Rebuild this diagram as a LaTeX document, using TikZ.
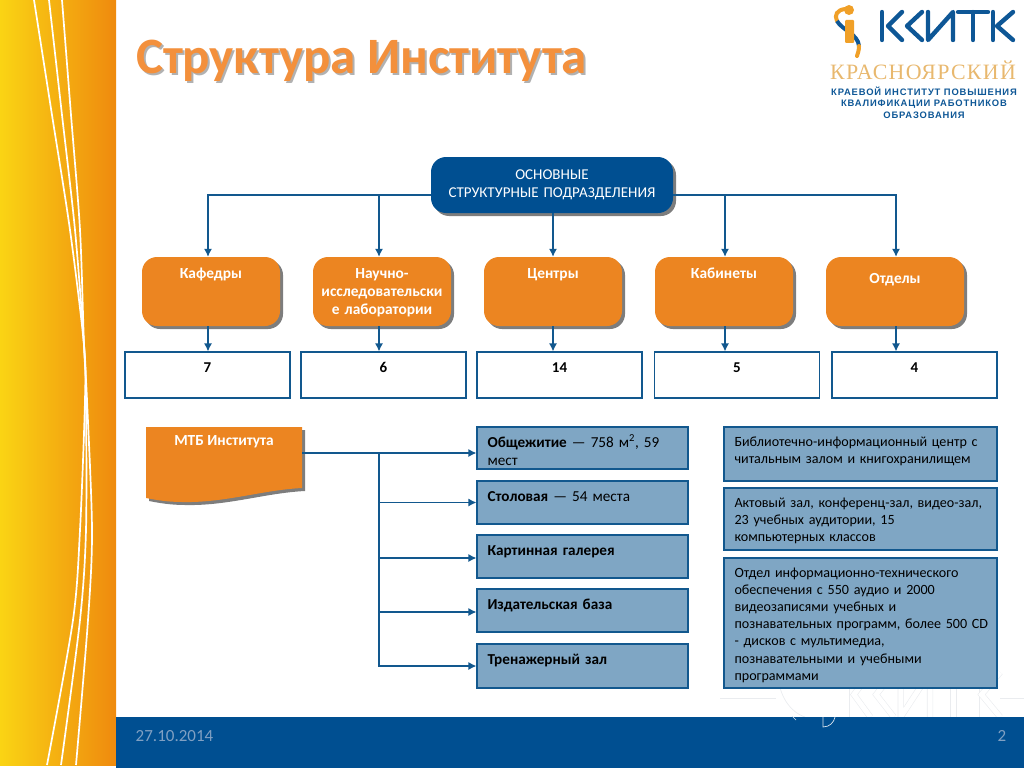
\documentclass[tikz,border=0pt]{standalone}
\usepackage{fontspec}
\setmainfont{Carlito}
\newfontfamily\logoserif[LetterSpace=6]{Liberation Serif}
\newfontfamily\logosans[LetterSpace=9]{Liberation Sans}
\usepackage{tikz}
\usetikzlibrary{shadows,arrows.meta}
\definecolor{kipkblue}{RGB}{0,79,145}
\definecolor{linkblue}{RGB}{18,88,142}
\definecolor{kipkorange}{RGB}{236,133,33}
\definecolor{titleorange}{RGB}{243,144,60}
\definecolor{boxblue}{RGB}{127,166,196}
\definecolor{shadowgray}{RGB}{125,125,125}
\definecolor{logoblue}{RGB}{14,87,150}
\definecolor{logoorange}{RGB}{240,160,40}
\definecolor{logotan}{RGB}{232,184,110}
\definecolor{markgray}{RGB}{234,236,239}
\newcommand{\logoletters}[1]{
	\draw [#1] (882,12) -- (882,40);
	\draw [#1] (902,12) -- (888,26) -- (902,40);
	\draw [#1] (922,12) -- (907,26) -- (922,40);
	\draw [#1] (928,12) -- (928,40) -- (953,12) -- (953,40);
	\draw [#1] (958,12) -- (988,12);
	\draw [#1] (973,12) -- (973,40);
	\draw [#1] (993,12) -- (993,40);
	\draw [#1] (1013,12) -- (997,26) -- (1013,40);
}
\tikzset{
	topbox/.style={draw=none, fill=kipkblue, rounded corners=15pt, text=white, font=\fontsize{15}{18}\selectfont, align=center, text width=234pt, inner xsep=4pt, inner ysep=0pt, text height=22pt, text depth=34pt, general shadow={fill=shadowgray, shadow xshift=3pt, shadow yshift=-3pt}},
	unitbox/.style={draw=none, fill=kipkorange, rounded corners=15pt, text=white, font=\bfseries\fontsize{15.4}{18}\selectfont, align=center, text width=130pt, inner xsep=4pt, inner ysep=0pt, text height=21pt, text depth=48pt, general shadow={fill=shadowgray, shadow xshift=3pt, shadow yshift=-3pt}},
	numbox/.style={draw=linkblue, line width=1.2pt, fill=white, font=\bfseries\fontsize{15}{18}\selectfont, minimum width=165pt, inner ysep=0pt, text height=20pt, text depth=26pt},
	leftbox/.style={draw=linkblue, line width=1.2pt, fill=boxblue, font=\fontsize{15.2}{18.6}\selectfont, align=left, text width=190pt, minimum width=211pt, inner xsep=0pt, inner ysep=0pt, text height=20pt},
	rightbox/.style={draw=linkblue, line width=1.2pt, fill=boxblue, font=\fontsize{14.1}{17.2}\selectfont, align=left, text width=252pt, minimum width=273pt, inner xsep=0pt, inner ysep=0pt, text height=19pt},
	connector/.style={-{Latex[length=8pt,width=8pt]}, draw=linkblue, line width=1.2pt},
}
\begin{document}
\begin{tikzpicture}[x=1pt, y=-1pt]
	\useasboundingbox (0,0) rectangle (1024,768);

	% side band and footer
	\fill [left color={rgb,255:red,250;green,212;blue,20}, middle color={rgb,255:red,245;green,172;blue,18}, right color={rgb,255:red,239;green,138;blue,14}] (0,0) rectangle (116,765);
	\draw [white, line width=1.7pt] plot [smooth] coordinates {(34,0) (52,115) (70,230) (84,345) (85,400) (80,530) (73,620) (47,765)};
	\draw [white, line width=1.7pt] plot [smooth] coordinates {(49,0) (62,115) (75,230) (84,345) (86,400) (86,530) (80,620) (61,765)};
	\draw [white, line width=1.7pt] plot [smooth] coordinates {(62,0) (71,115) (80,230) (84,345) (87,400) (92,530) (88,620) (76,765)};

	% faint logo behind the boxes
	\draw [markgray, line width=0.7pt] (720,698) -- (776,698);
	\draw [markgray, line width=0.7pt] (1000,698) -- (1024,698);
	\draw [markgray, line width=0.7pt] (778,672) .. controls (778,695) and (790,712) .. (805,717);
	\begin{scope}[shift={(-185,653)}, xscale=1.17, yscale=1.6]
		\logoletters{markgray, line width=0.6pt, double=white, double distance=5pt}
	\end{scope}

	\fill [kipkblue] (116,717) rectangle (1024,768);
	\draw [white!85!kipkblue, line width=0.7pt] (823,717) -- (823,727) .. controls (830,727) and (834,722) .. (835,717);
	\draw [white!85!kipkblue, line width=0.7pt] (792,716) -- (796,720);
	\node at (174.5,736) [text={rgb,255:red,128;green,160;blue,195}, font=\fontsize{17}{18}\selectfont] (datetext) {27.10.2014};
	\node at (1002,736) [text={rgb,255:red,128;green,160;blue,195}, font=\fontsize{17}{18}\selectfont] (pagetext) {2};

	% heading
	\node at (363.5,63) [text=shadowgray!60, font=\bfseries\fontsize{51}{56}\selectfont] (titleback) {Структура Института};
	\node at (361.5,61) [text=titleorange, font=\bfseries\fontsize{51}{56}\selectfont] (title) {Структура Института};

	% logo
	\logoletters{logoblue, line width=4.4pt, line cap=round, line join=round}
	\draw [logoorange, line width=4pt, line cap=round] (845,9) .. controls (837,10) and (834,15) .. (837,21);
	\draw [logoblue, line width=4pt] (837,21) .. controls (842,30) and (858,34) .. (859,46);
	\draw [logoorange, line width=4pt, line cap=round] (859,46) .. controls (859,50) and (858,53) .. (857,56);
	\fill [logoorange] (849,10) circle [radius=5];
	\fill [logoorange, rounded corners=1pt] (845,20) rectangle (854,43);
	\node at (923,70) [text=logotan, font=\logoserif\fontsize{21.9}{24}\selectfont] (logocity) {КРАСНОЯРСКИЙ};
	\node at (924,95) [anchor=base, text=logoblue, font=\logosans\bfseries\fontsize{9.4}{11}\selectfont] (logoa) {КРАЕВОЙ ИНСТИТУТ ПОВЫШЕНИЯ};
	\node at (924,106) [anchor=base, text=logoblue, font=\logosans\bfseries\fontsize{9.4}{11}\selectfont] (logob) {КВАЛИФИКАЦИИ РАБОТНИКОВ};
	\node at (924,118) [anchor=base, text=logoblue, font=\logosans\bfseries\fontsize{9.4}{11}\selectfont] (logoc) {ОБРАЗОВАНИЯ};

	% top row
	\node at (552,185) [topbox] (osn) {ОСНОВНЫЕ\\СТРУКТУРНЫЕ ПОДРАЗДЕЛЕНИЯ};
	\node at (211,291.5) [unitbox] (kaf) {Кафедры};
	\node at (382,291.5) [unitbox] (lab) {Научно-\\исследовательски\\е лаборатории};
	\node at (553,291.5) [unitbox] (cen) {Центры};
	\node at (724,291.5) [unitbox] (cab) {Кабинеты};
	\node at (895,291.5) [unitbox, text height=26pt, text depth=43pt] (otd) {Отделы};

	\node at (207.5,375) [numbox] (kafnum) {7};
	\node at (383.5,375) [numbox] (labnum) {6};
	\node at (559.5,375) [numbox] (cennum) {14};
	\node at (737,375) [numbox] (cabnum) {5};
	\node at (914.5,375) [numbox] (otdnum) {4};

	\coordinate (kafx) at (208,195);
	\coordinate (labx) at (379,195);
	\coordinate (cenx) at (553,195);
	\coordinate (cabx) at (725,195);
	\coordinate (otdx) at (896,195);
	\draw [connector] (osn.west |- kafx) -- (kafx) -- (kafx |- kaf.north);
	\draw [connector] (labx) -- (labx |- lab.north);
	\draw [connector] (cenx |- osn.south) -- (cenx |- cen.north);
	\draw [connector] (osn.east |- cabx) -- (otdx) -- (otdx |- otd.north);
	\draw [connector] (cabx) -- (cabx |- cab.north);
	\draw [connector] (kafx |- kaf.south) -- (kafx |- kafnum.north);
	\draw [connector] (labx |- lab.south) -- (labx |- labnum.north);
	\draw [connector] (cenx |- cen.south) -- (cenx |- cennum.north);
	\draw [connector] (cabx |- cab.south) -- (cabx |- cabnum.north);
	\draw [connector] (otdx |- otd.south) -- (otdx |- otdnum.north);

	% lower part
	\fill [kipkorange, general shadow={fill=shadowgray, shadow xshift=3pt, shadow yshift=-3pt}] (146,427) -- (302,427) -- (302,488) .. controls (262,490) and (225,503) .. (182,502) .. controls (168,502) and (156,500) .. (146,498) -- cycle;
	\node at (224,442) [text=white, font=\bfseries\fontsize{15.4}{18}\selectfont] (mtb) {МТБ Института};

	\node at (582.5,448) [leftbox, text depth=22pt] (obs) {\textbf{Общежитие} — 758 м\textsuperscript{2}, 59\\мест};
	\node at (582.5,502.5) [leftbox, text depth=23pt] (sto) {\textbf{Столовая} — 54 места};
	\node at (582.5,556.5) [leftbox, text depth=23pt] (gal) {\textbf{Картинная галерея}};
	\node at (582.5,610.5) [leftbox, text depth=23pt] (izd) {\textbf{Издательская база}};
	\node at (582.5,666) [leftbox, text depth=24pt] (tre) {\textbf{Тренажерный зал}};

	\node at (860.5,454) [rightbox, text depth=35pt] (bib) {Библиотечно-информационный центр с\\читальным залом и книгохранилищем};
	\node at (860.5,519) [rightbox, text depth=43pt] (akt) {Актовый зал, конференц-зал, видео-зал,\\23 учебных аудитории, 15\\компьютерных классов};
	\node at (860.5,623) [rightbox, text depth=111pt] (otdel) {Отдел информационно-технического\\обеспечения с 550 аудио и 2000\\видеозаписями учебных и\\\mbox{познавательных программ, более 500 CD}\\- дисков с мультимедиа,\\познавательными и учебными\\программами};

	\coordinate (mtbr) at (302,453);
	\coordinate (mtbv) at (379,453);
	\draw [connector] (mtbr) -- (mtbr -| obs.west);
	\draw [connector] (mtbv) |- (sto.west);
	\draw [connector] (mtbv) |- ([yshift=-1.5pt]gal.west);
	\draw [connector] (mtbv) |- ([yshift=-1.5pt]izd.west);
	\draw [connector] (mtbv) |- (tre.west);
\end{tikzpicture}
\end{document}
